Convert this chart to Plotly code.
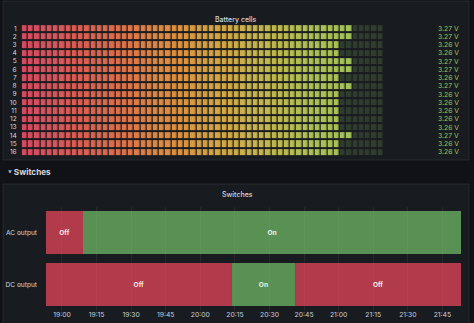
import numpy as np
import pandas as pd
import plotly.graph_objects as go

W, H = 474, 323

# ---------------- data ----------------
cell_labels = [str(i) for i in range(1, 17)]
cell_voltages = [3.268, 3.267, 3.258, 3.257, 3.268, 3.267, 3.258, 3.268,
                 3.257, 3.258, 3.258, 3.257, 3.258, 3.268, 3.258, 3.257]
V_MIN, V_MAX, N_SEG = 3.0, 3.29, 58

switch_rows = ["AC output", "DC output"]
ac_change_times = ["2024-01-01 18:53:04", "2024-01-01 19:09:07"]
ac_states = ["Off", "On"]
dc_change_times = ["2024-01-01 18:53:04", "2024-01-01 20:13:34", "2024-01-01 20:41:10"]
dc_states = ["Off", "On", "Off"]
range_start = "2024-01-01 18:53:04"
range_end = "2024-01-01 21:53:04"

# ---------------- helpers ----------------
def px(x):
    return x / W

def py(y):
    return 1 - y / H

FONT = "Inter, Roboto, 'DejaVu Sans', sans-serif"
TXT = "#d8d9da"

fig = go.Figure()

# ---------------- battery LCD gauge ----------------
pos = np.arange(N_SEG) / (N_SEG - 1)
z_lit, z_off = [], []
for v in cell_voltages:
    n_lit = int(np.floor((v - V_MIN) / (V_MAX - V_MIN) * N_SEG))
    z_lit.append([pos[c] if c < n_lit else None for c in range(N_SEG)])
    z_off.append([1 if c >= n_lit else None for c in range(N_SEG)])

lit_scale = [[0.0, "#D94A60"], [0.22, "#DC664E"], [0.36, "#E08442"],
             [0.50, "#D99E40"], [0.64, "#C9B34A"], [0.78, "#B2BF53"],
             [1.0, "#9AC35E"]]

rows_idx = list(range(len(cell_labels)))
fig.add_trace(go.Heatmap(z=z_lit, x=list(range(N_SEG)), y=rows_idx,
                         colorscale=lit_scale, zmin=0, zmax=1, showscale=False,
                         xgap=1.3, ygap=2, hoverinfo="skip", xaxis="x", yaxis="y"))
fig.add_trace(go.Heatmap(z=z_off, x=list(range(N_SEG)), y=rows_idx,
                         colorscale=[[0, "#303C2E"], [1, "#303C2E"]], zmin=0, zmax=1,
                         showscale=False, xgap=1.3, ygap=2, hoverinfo="skip",
                         xaxis="x", yaxis="y"))

annotations = []
for i, v in enumerate(cell_voltages):
    annotations.append(dict(x=px(461), xref="paper", y=i, yref="y",
                            text=f"{v:.2f} V", showarrow=False, xanchor="right",
                            font=dict(family=FONT, size=6.8, color="#9DC45C")))

# ---------------- state timeline ----------------
t_end = pd.Timestamp(range_end)
seg = {"Off": dict(y=[], base=[], x=[], text=[]), "On": dict(y=[], base=[], x=[], text=[])}
for row, times, states in [("AC output", ac_change_times, ac_states),
                           ("DC output", dc_change_times, dc_states)]:
    ts = [pd.Timestamp(t) for t in times] + [t_end]
    for k, s in enumerate(states):
        seg[s]["y"].append(row)
        seg[s]["base"].append(ts[k].strftime("%Y-%m-%d %H:%M:%S"))
        seg[s]["x"].append((ts[k + 1] - ts[k]).total_seconds() * 1000)
        seg[s]["text"].append(s)

state_colors = {"Off": "rgba(242,73,92,0.70)", "On": "rgba(115,191,105,0.72)"}
state_text = {"Off": "#f6e6e8", "On": "#e8f3e4"}
for s in ["Off", "On"]:
    fig.add_trace(go.Bar(orientation="h", y=seg[s]["y"], base=seg[s]["base"],
                         x=seg[s]["x"], text=seg[s]["text"], textposition="inside",
                         insidetextanchor="middle", textangle=0,
                         textfont=dict(family=FONT, size=6.6, color=state_text[s], weight="bold"),
                         marker=dict(color=state_colors[s], line=dict(width=0)),
                         width=0.83, hoverinfo="skip", xaxis="x2", yaxis="y2",
                         showlegend=False))

# ---------------- panels / titles ----------------
shapes = [
    dict(type="rect", xref="paper", yref="paper", x0=px(3), x1=px(469), y0=py(160), y1=py(1),
         fillcolor="#181b1f", line=dict(color="rgba(204,204,220,0.10)", width=1), layer="below"),
    dict(type="rect", xref="paper", yref="paper", x0=px(3), x1=px(469), y0=py(330), y1=py(184),
         fillcolor="#181b1f", line=dict(color="rgba(204,204,220,0.10)", width=1), layer="below"),
]

annotations += [
    dict(x=px(236), y=py(12.5), xref="paper", yref="paper", text="Battery cells",
         showarrow=False, font=dict(family=FONT, size=7, color=TXT, weight=500)),
    dict(x=px(237), y=py(194), xref="paper", yref="paper", text="Switches",
         showarrow=False, font=dict(family=FONT, size=7, color=TXT, weight=500)),
    dict(x=px(6), y=py(172.5), xref="paper", yref="paper", text="˅ Switches",
         xanchor="left", showarrow=False, font=dict(family=FONT, size=8.2, color=TXT, weight="bold")),
]

fig.update_layout(
    width=W, height=H, margin=dict(l=0, r=0, t=0, b=0),
    paper_bgcolor="#111217", plot_bgcolor="rgba(0,0,0,0)",
    barmode="overlay", showlegend=False,
    font=dict(family=FONT, color=TXT),
    shapes=shapes, annotations=annotations,
    xaxis=dict(domain=[px(21.7), px(383.5)], range=[-0.5, N_SEG - 0.5], visible=False,
               fixedrange=True),
    yaxis=dict(domain=[py(155.9), py(24.1)], range=[len(cell_labels) - 0.5, -0.5],
               tickvals=rows_idx, ticktext=cell_labels, showgrid=False, zeroline=False,
               showline=False, ticks="", ticklabelstandoff=4,
               tickfont=dict(family=FONT, size=6.6, color=TXT), fixedrange=True),
    xaxis2=dict(type="date", domain=[px(46), px(461)], range=[range_start, range_end],
                anchor="free", position=py(306.5), tickformat="%H:%M", dtick=900000,
                tick0="2024-01-01 19:00:00", showgrid=True,
                gridcolor="rgba(204,204,220,0.08)", gridwidth=1, zeroline=False,
                showline=False, ticks="", ticklabelstandoff=3,
                tickfont=dict(family=FONT, size=6.8, color="#c7d0d9")),
    yaxis2=dict(domain=[py(310.5), py(206.5)], type="category",
                categoryorder="array", categoryarray=["DC output", "AC output"],
                range=[-0.5, 1.5], anchor="x2", showgrid=False, zeroline=False,
                showline=False, ticks="", ticklabelstandoff=8,
                tickfont=dict(family=FONT, size=6.6, color=TXT)),
)

fig.write_html("out.html")
